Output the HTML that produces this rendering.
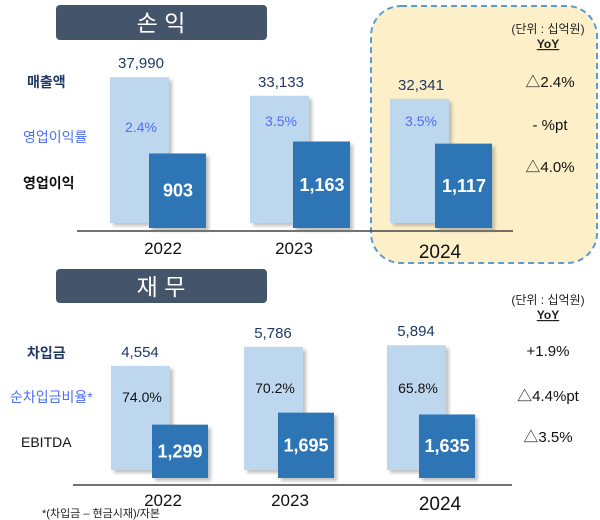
<!DOCTYPE html>
<html><head><meta charset="utf-8">
<style>
html,body{margin:0;padding:0;background:#fff;}
svg{display:block;font-family:"Liberation Sans","Noto Sans CJK KR",sans-serif;}
</style></head>
<body>
<svg id="c" width="600" height="520" viewBox="0 0 600 520">
<defs>
<filter id="sh" x="-20%" y="-20%" width="150%" height="150%"><feDropShadow dx="3" dy="3" stdDeviation="1.5" flood-color="#777" flood-opacity="0.45"/></filter>
</defs>
<rect x="371" y="6" width="226" height="257" rx="30" fill="#fdf0c8" stroke="#5b9bd5" stroke-width="2" stroke-dasharray="6,4"/>
<g>
<rect x="56" y="5" width="211" height="35" rx="4" fill="#44546a"/>
<text x="161" y="31" font-size="23" fill="#fff" text-anchor="middle">손 익</text>
</g>
<g>
<rect x="56" y="269" width="211" height="34" rx="4" fill="#44546a"/>
<text x="161" y="295" font-size="23" fill="#fff" text-anchor="middle">재 무</text>
</g>
<g font-size="12" fill="#222" text-anchor="middle">
<text x="548" y="33">(단위 : 십억원)</text>
<text x="548" y="48" font-weight="bold" text-decoration="underline">YoY</text>
<text x="548" y="304">(단위 : 십억원)</text>
<text x="548" y="319" font-weight="bold" text-decoration="underline">YoY</text>
</g>
<g font-size="14" font-weight="bold">
<text x="27" y="87" fill="#1f3864">매출액</text>
<text x="23" y="142" fill="#4f6ef7" font-weight="normal">영업이익률</text>
<text x="23" y="188" fill="#111">영업이익</text>
<text x="27" y="358" fill="#1f3864">차입금</text>
<text x="10" y="402" fill="#4f6ef7" font-weight="normal">순차입금비율*</text>
<text x="21" y="447" fill="#111" font-weight="normal">EBITDA</text>
</g>
<text x="42" y="517" font-size="11" fill="#222">*(차입금 – 현금시재)/자본</text>
<g id="plot"></g>
</svg>
<script>
const years = ["2022","2023","2024"];
const revenue = [37990, 33133, 32341];
const revenueLabels = ["37,990","33,133","32,341"];
const opMargin = ["2.4%","3.5%","3.5%"];
const opIncome = [903, 1163, 1117];
const opIncomeLabels = ["903","1,163","1,117"];
const yoyTop = ["△2.4%","- %pt","△4.0%"];
const debt = [4554, 5786, 5894];
const debtLabels = ["4,554","5,786","5,894"];
const netDebtRatio = ["74.0%","70.2%","65.8%"];
const ebitda = [1299, 1695, 1635];
const ebitdaLabels = ["1,299","1,695","1,635"];
const yoyBottom = ["+1.9%","△4.4%pt","△3.5%"];

const NS="http://www.w3.org/2000/svg";
const g=document.getElementById('plot');
function mk(tag,attrs,parent){const e=document.createElementNS(NS,tag);for(const k in attrs)e.setAttribute(k,attrs[k]);(parent||g).appendChild(e);return e;}
function txt(x,y,s,size,fill,bold,parent){const t=mk('text',{x:x,y:y,'font-size':size,fill:fill,'text-anchor':'middle','font-weight':bold?'bold':'normal'},parent);t.textContent=s;return t;}

// scales
const revH=v=>v*0.00384;
const opH=v=>33+v*0.046;
const debtH=v=>34+v*0.0154;
const ebH=v=>14+v*0.0303;

const topLightX=[110,250,390], topDarkX=[149,293,435];
const botLightX=[111,244,387], botDarkX=[152,278,419];
const yearXTop=[163,294,440], yearXBot=[163,290,440];

// top axis
const a1=mk('line',{x1:77,y1:231,x2:513,y2:231,stroke:'#444','stroke-width':1.5});


const a2=mk('line',{x1:73,y1:485,x2:512,y2:485,stroke:'#444','stroke-width':1.5});



for(let i=0;i<3;i++){
  // top light bar
  const h1=revH(revenue[i]);
  const b1=mk('rect',{x:topLightX[i],y:223-h1,width:59,height:h1,fill:'#bdd7ee',filter:'url(#sh)'});
  
  
  const l1=txt(topLightX[i]+31,223-h1-9,revenueLabels[i],15,'#1f3864',false);
  
  
  const m1=txt(topLightX[i]+31,i==0?132:126,opMargin[i],14,'#4f6ef7',false);
  
  
  const h2=opH(opIncome[i]);
  const b2=mk('rect',{x:topDarkX[i],y:228-h2,width:57,height:h2,fill:'#2e75b6',filter:'url(#sh)'});
  
  
  const l2=txt(topDarkX[i]+29,228-h2/2+6,opIncomeLabels[i],18,'#fff',true);
  
  
  const y1=txt(yearXTop[i],i==2?258:254,years[i],i==2?19:17,'#111',false);
  
  
  const yy=txt(550,[87,130,172][i],yoyTop[i],15,'#111',false);
  
  

  // bottom
  const h3=debtH(debt[i]);
  const b3=mk('rect',{x:botLightX[i],y:470-h3,width:59,height:h3,fill:'#bdd7ee',filter:'url(#sh)'});
  
  
  const l3=txt(botLightX[i]+29,470-h3-9,debtLabels[i],15,'#1f3864',false);
  
  
  const m3=txt(botLightX[i]+31,i==0?402:393,netDebtRatio[i],14,'#111',false);
  
  
  const h4=ebH(ebitda[i]);
  const b4=mk('rect',{x:botDarkX[i],y:478-h4,width:56,height:h4,fill:'#2e75b6',filter:'url(#sh)'});
  
  
  const l4=txt(botDarkX[i]+28,478-h4/2+6,ebitdaLabels[i],18,'#fff',true);
  
  
  const y2=txt(yearXBot[i],i==2?510:506,years[i],i==2?19:17,'#111',false);
  
  
  const yb=txt(548,[356,401,442][i],yoyBottom[i],15,'#111',false);
  
  
}
</script>
</body></html>
